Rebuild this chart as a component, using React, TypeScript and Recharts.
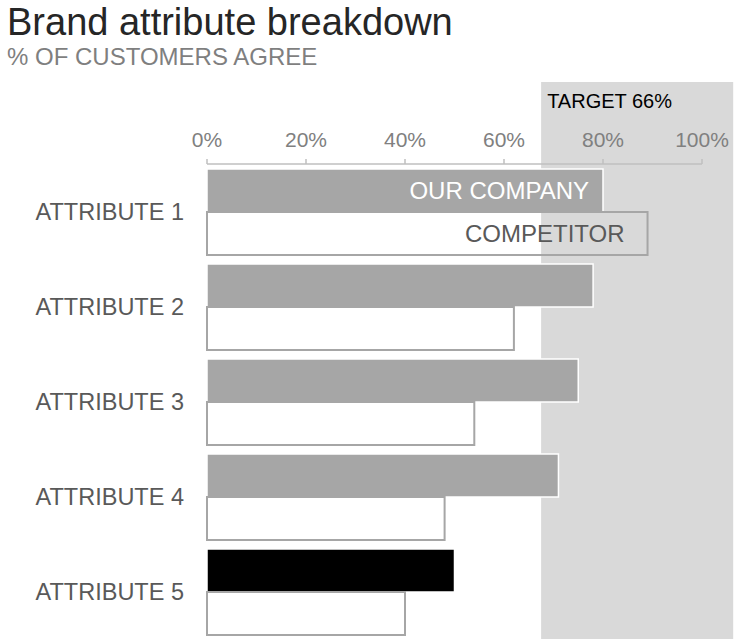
import { BarChart, Bar, XAxis, YAxis, ReferenceArea, LabelList, Cell } from "recharts";

const attributes = ["ATTRIBUTE 1", "ATTRIBUTE 2", "ATTRIBUTE 3", "ATTRIBUTE 4", "ATTRIBUTE 5"];
const ourCompany = [80, 78, 75, 71, 50];
const competitor = [89, 62, 54, 48, 40];
const xTicks = [0, 20, 40, 60, 80, 100];
const targetStart = 67.5;
const targetEnd = 106.3;
const highlightIndex = 4;

const FONT = "'Liberation Sans', Arial, sans-serif";

const data = attributes.map((name, i) => ({
  name,
  our: ourCompany[i],
  comp: competitor[i],
  ourLabel: i === 0 ? "OUR COMPANY" : undefined,
  compLabel: i === 0 ? "COMPETITOR" : undefined,
}));

// shading extends above the plot, behind the axis
const TargetShape = (props: any) => {
  const { x, y, width, height } = props;
  const up = 82;
  return <rect x={x} y={y - up} width={width} height={height + up} fill="#d9d9d9" />;
};

export default function App() {
  return (
    <div style={{ position: "absolute", left: 0, top: 0, width: 750, height: 644, background: "#fff", fontFamily: FONT }}>
      <div style={{ position: "absolute", left: 7, top: 0, fontSize: 38, lineHeight: "44px", color: "#262626" }}>
        Brand attribute breakdown
      </div>
      <div style={{ position: "absolute", left: 7, top: 43, fontSize: 24, lineHeight: "28px", color: "#7f7f7f" }}>
        % OF CUSTOMERS AGREE
      </div>
      <div style={{ position: "absolute", left: 0, top: 0 }}>
        <BarChart
          width={750}
          height={644}
          data={data}
          layout="vertical"
          margin={{ top: 134, right: 48, bottom: 5, left: 0 }}
          barCategoryGap={5}
          barGap={0}
        >
          <ReferenceArea
            x1={targetStart}
            x2={targetEnd}
            ifOverflow="visible"
            shape={<TargetShape />}
            label={{ value: "TARGET 66%", position: "insideTopLeft", fill: "#000", fontSize: 20, fontFamily: FONT, dx: 1, dy: -75 }}
          />
          <XAxis
            type="number"
            orientation="top"
            domain={[0, 100]}
            ticks={xTicks}
            tickFormatter={(v) => `${v}%`}
            height={30}
            axisLine={{ stroke: "#bfbfbf", strokeWidth: 1.5 }}
            tickLine={{ stroke: "#bfbfbf", strokeWidth: 1.5 }}
            tickSize={5}
            tickMargin={12}
            tick={{ fill: "#808080", fontSize: 21, fontFamily: FONT }}
          />
          <YAxis
            type="category"
            dataKey="name"
            width={207}
            axisLine={false}
            tickLine={false}
            tickMargin={17}
            tick={{ fill: "#595959", fontSize: 23.5, fontFamily: FONT }}
          />
          <Bar dataKey="our" fill="#a6a6a6" stroke="#ffffff" strokeWidth={1.5} isAnimationActive={false}>
            {data.map((_, i) => (
              <Cell key={i} fill={i === highlightIndex ? "#000000" : "#a6a6a6"} />
            ))}
            <LabelList dataKey="ourLabel" position="insideRight" offset={14} fill="#ffffff" fontSize={24} fontFamily={FONT} />
          </Bar>
          <Bar dataKey="comp" fill="none" stroke="#a6a6a6" strokeWidth={2} isAnimationActive={false}>
            <LabelList dataKey="compLabel" position="insideRight" offset={23} fill="#595959" fontSize={24} fontFamily={FONT} />
          </Bar>
        </BarChart>
      </div>
    </div>
  );
}
